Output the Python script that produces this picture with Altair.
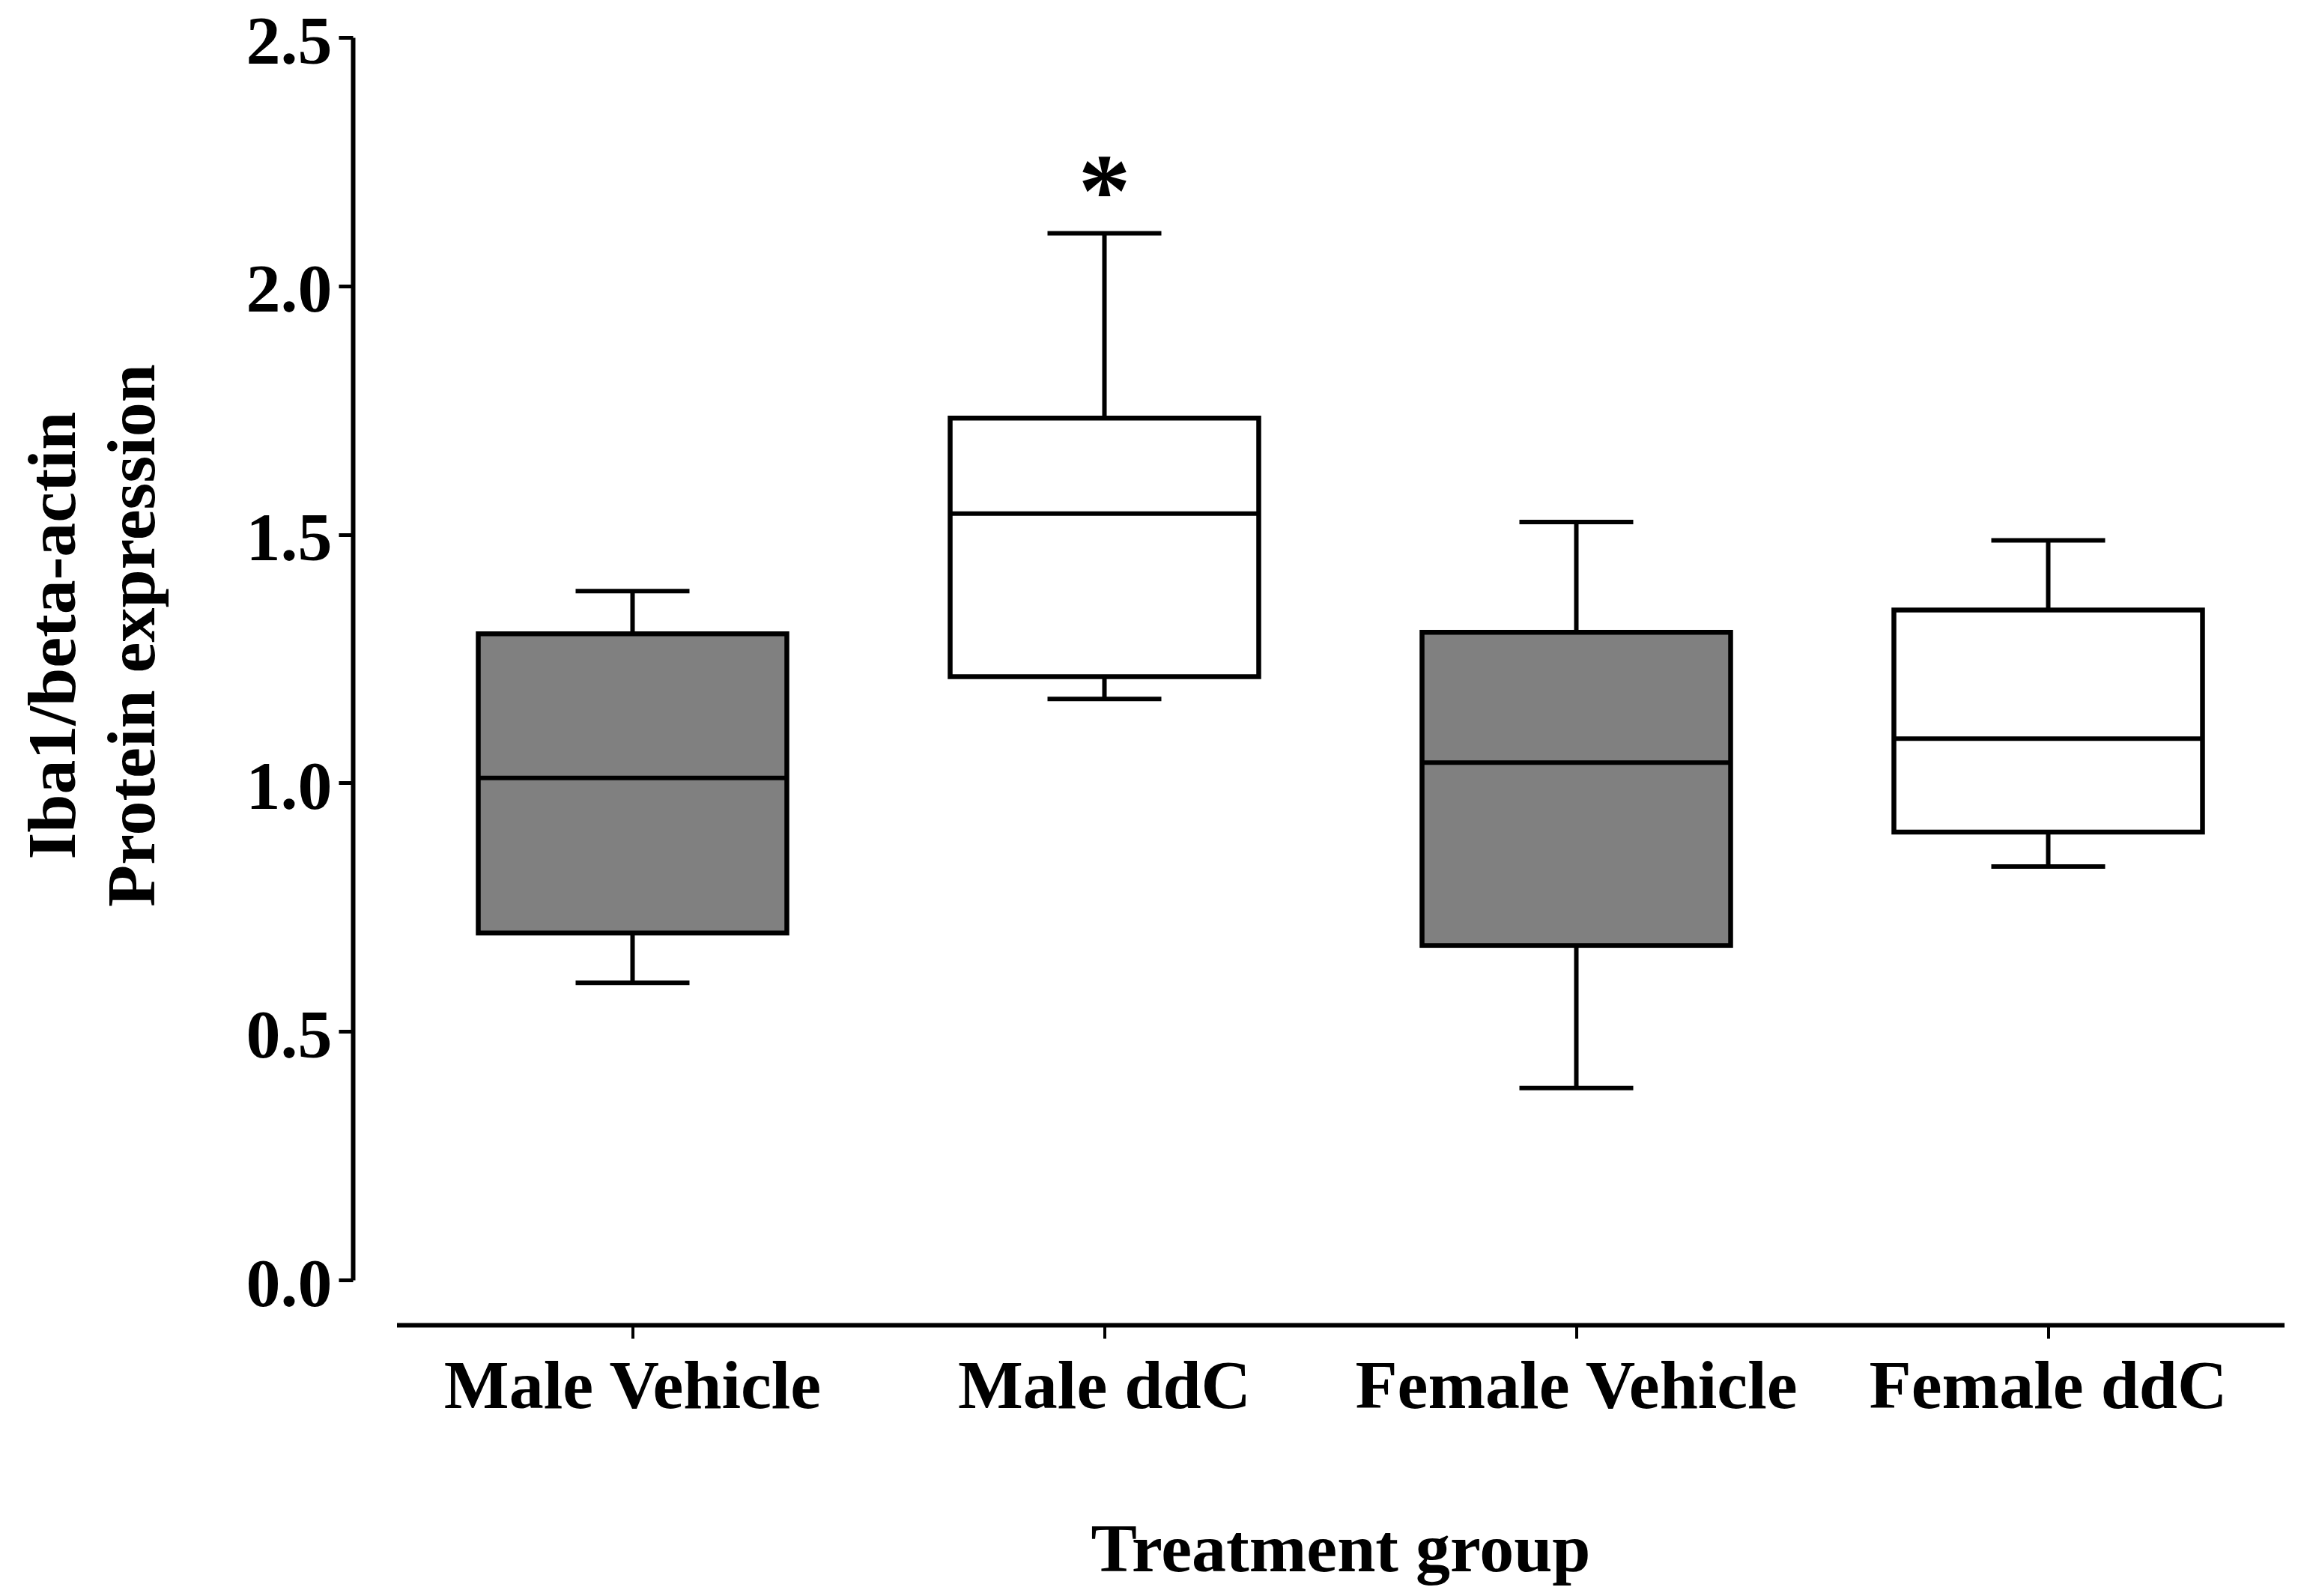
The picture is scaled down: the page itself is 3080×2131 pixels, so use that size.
import altair as alt
import pandas as pd

groups = ["Male Vehicle", "Male ddC", "Female Vehicle", "Female ddC"]
whisker_low = [0.598, 1.169, 0.386, 0.832]
q1 = [0.698, 1.214, 0.673, 0.901]
median = [1.010, 1.542, 1.041, 1.089]
q3 = [1.300, 1.734, 1.303, 1.348]
whisker_high = [1.386, 2.106, 1.525, 1.488]
fills = ["#808080", "#ffffff", "#808080", "#ffffff"]

sig_groups = ["Male ddC"]
sig_labels = ["*"]
sig_y = [2.12]

y_ticks = [0.0, 0.5, 1.0, 1.5, 2.0, 2.5]
y_title = ["Iba1/beta-actin", "Protein expression"]
x_title = "Treatment group"

FONT = "Liberation Serif"

df = pd.DataFrame({
    "group": groups,
    "low": whisker_low,
    "q1": q1,
    "median": median,
    "q3": q3,
    "high": whisker_high,
})
sig = pd.DataFrame({"group": sig_groups, "label": sig_labels, "y": sig_y})

x_axis = alt.Axis(
    offset=60, domainWidth=6, domainColor="black", tickWidth=4, tickSize=18,
    tickColor="black", labelAngle=0, labelFont=FONT, labelFontSize=92,
    labelFontWeight="bold", labelColor="black", labelPadding=19, labelLimit=0,
    labelBaseline="top", title=x_title, titleFont=FONT, titleFontSize=92,
    titleFontWeight="bold", titleColor="black", titleBaseline="alphabetic",
    titleY=328, titleX=1260, titleAlign="center", grid=False,
)
y_axis = alt.Axis(
    values=y_ticks, format=".1f", offset=58.5, domainWidth=6,
    domainColor="black", tickWidth=5, tickSize=19, tickColor="black",
    labelFont=FONT, labelFontSize=92, labelFontWeight="bold",
    labelColor="black", labelPadding=9, labelOffset=6, labelLimit=0, grid=False,
    title=y_title, titleFont=FONT, titleFontSize=92, titleFontWeight="bold",
    titleColor="black", titleAngle=270, titleBaseline="alphabetic",
    titleAlign="center", titleX=-372, titleY=798, titleLineHeight=106,
    titleLimit=0,
)

xs = alt.Scale(domain=groups, paddingInner=0, paddingOuter=0)
ys = alt.Scale(domain=[0, 2.5], nice=False, zero=True)


def X():
    return alt.X("group:N", sort=groups, scale=xs, axis=x_axis)


def Y(field):
    return alt.Y(f"{field}:Q", scale=ys, axis=y_axis)


base = alt.Chart(df)

w_low = base.mark_rule(color="black", strokeWidth=6, opacity=1).encode(
    x=X(), y=Y("low"), y2="q1:Q")
w_high = base.mark_rule(color="black", strokeWidth=6, opacity=1).encode(
    x=X(), y=Y("q3"), y2="high:Q")
cap_low = base.mark_tick(color="black", size=152, thickness=6, opacity=1,
                         orient="horizontal").encode(x=X(), y=Y("low"))
cap_high = base.mark_tick(color="black", size=152, thickness=6, opacity=1,
                          orient="horizontal").encode(x=X(), y=Y("high"))
boxes = base.mark_bar(size=412, stroke="black", strokeWidth=6.5, opacity=1).encode(
    x=X(), y=Y("q1"), y2="q3:Q",
    fill=alt.Fill("group:N", scale=alt.Scale(domain=groups, range=fills), legend=None),
)
med = base.mark_tick(color="black", size=412, thickness=6, opacity=1,
                     orient="horizontal").encode(x=X(), y=Y("median"))
star = alt.Chart(sig).mark_text(
    font=FONT, fontSize=140, fontWeight="bold", color="black",
    baseline="alphabetic", align="center",
).encode(x=X(), y=Y("y"), text="label:N")

chart = alt.layer(w_low, w_high, cap_low, cap_high, boxes, med, star).properties(
    width=2520, height=1659,
    autosize=alt.AutoSizeParams(type="none"),
    padding={"left": 521.5, "top": 42, "right": 22.5, "bottom": 414},
    background="white",
).configure_view(stroke=None)

chart.save("out.html", embed_options={"renderer": "svg", "actions": False})
